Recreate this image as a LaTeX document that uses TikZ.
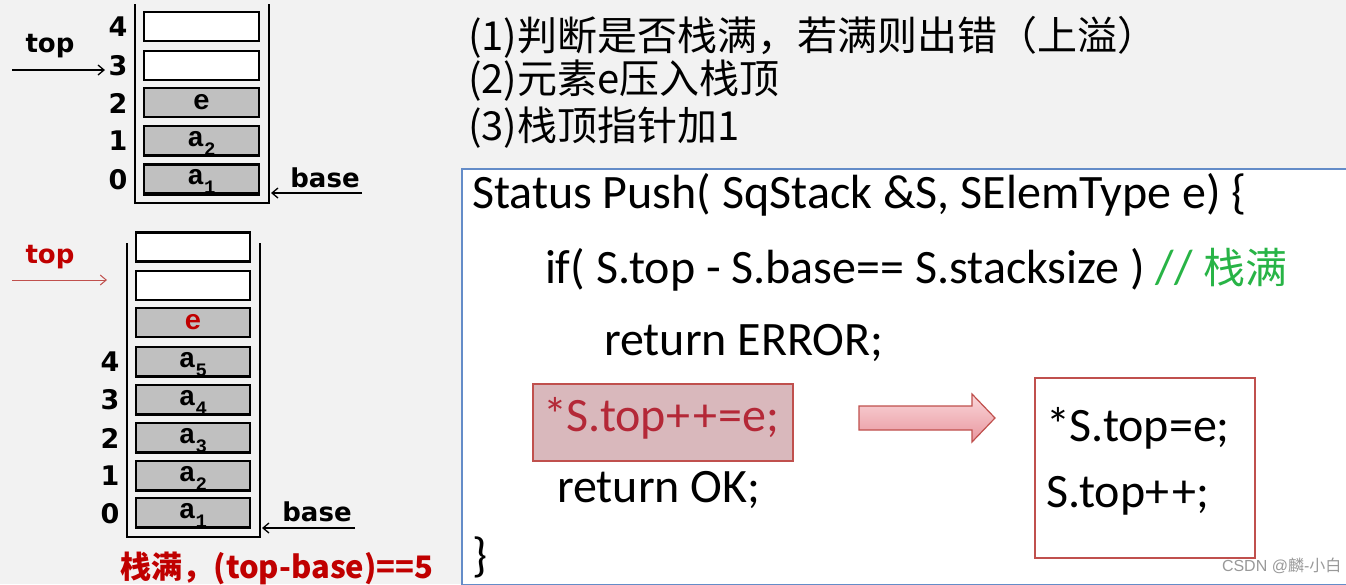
\documentclass[tikz,border=0pt]{standalone}
\usepackage{fontspec}
\setmainfont{Carlito}
\newfontfamily\cjk{Noto Sans CJK SC}
\newfontfamily\mono{Liberation Mono}
\newfontfamily\dvs{DejaVu Sans}
\newfontfamily\lsans{Liberation Sans}
\usetikzlibrary{arrows.meta}
\definecolor{bg}{RGB}{242,242,242}
\definecolor{codeborder}{RGB}{100,140,200}
\definecolor{redline}{RGB}{192,80,77}
\definecolor{redfill}{RGB}{217,184,188}
\definecolor{redtext}{RGB}{180,40,55}
\definecolor{darkred}{RGB}{192,0,0}
\definecolor{cgreen}{RGB}{40,180,70}
\definecolor{cellgray}{RGB}{192,192,192}
\definecolor{arrowtop}{RGB}{250,215,218}
\definecolor{arrowbot}{RGB}{232,150,158}
\newcommand{\elem}[1]{\raisebox{1pt}{a}\raisebox{-8pt}{\fontsize{19}{19}\selectfont #1}}
\tikzset{
  txt/.style={inner sep=0pt, outer sep=0pt},
  cell/.style={draw=black, line width=2.2pt, minimum width=115pt, minimum height=29pt, inner sep=0pt, text height=13pt, text depth=0pt, font=\mono\bfseries\fontsize{28}{28}\selectfont},
  fullcell/.style={cell, fill=cellgray},
  emptycell/.style={cell, fill=white},
  idx/.style={txt, font=\dvs\bfseries\fontsize{27}{27}\selectfont},
  ptr/.style={txt, font=\dvs\bfseries\fontsize{26}{26}\selectfont},
  wall/.style={line width=1.8pt},
  ptrarrow/.style={line width=1.3pt, -{Straight Barb[length=6pt,width=10pt]}},
  cn/.style={txt, font=\cjk\fontsize{40}{42}\selectfont},
  code/.style={txt, font=\fontsize{48}{52}\selectfont},
}
\begin{document}
\begin{tikzpicture}[x=1pt,y=-1pt]
\fill[bg] (0,0) rectangle (1346,584);
\useasboundingbox (0,0) rectangle (1346,584);

% ---------- upper stack ----------
\draw[wall] (135,4) -- (135,203) -- (269,203) -- (269,4);
\node[emptycell] (u4) at (201.5,26.5) {};
\node[emptycell] (u3) at (201.5,65.5) {};
\node[fullcell] (u2) at (201.5,102.5) {e};
\node[fullcell] (u1) at (201.5,140.5) {\elem{2}};
\node[fullcell] (u0) at (201.5,179) {\elem{1}};
\foreach \n in {u1,u0} \draw[line width=2.2pt] (\n.south west) -- (\n.south east);
\node[idx] (ui4) at (118,27) {4};
\node[idx] (ui3) at (118,66) {3};
\node[idx] (ui2) at (118,103) {2};
\node[idx] (ui1) at (118,141) {1};
\node[idx] (ui0) at (118,180) {0};
\node[ptr] (utop) at (50,46) {top};
\coordinate (utopS) at (12,70);
\coordinate (utopE) at (105,70);
\draw[ptrarrow] (utopS) -- (utopE);
\node[ptr] (ubase) at (325,178) {base};
\coordinate (ubaseS) at (362,193);
\coordinate (ubaseE) at (271,193);
\draw[ptrarrow] (ubaseS) -- (ubaseE);

% ---------- lower stack ----------
\draw[wall] (127,243) -- (127,537) -- (260,537) -- (260,243);
\node[emptycell, minimum width=114pt] (l7) at (193,247) {};
\node[emptycell, minimum width=114pt] (l6) at (193,285.5) {};
\node[fullcell, minimum width=114pt, text=darkred] (l5) at (193,322.5) {e};
\node[fullcell, minimum width=114pt] (l4) at (193,361.5) {\elem{5}};
\node[fullcell, minimum width=114pt] (l3) at (193,399.5) {\elem{4}};
\node[fullcell, minimum width=114pt] (l2) at (193,437.5) {\elem{3}};
\node[fullcell, minimum width=114pt] (l1) at (193,475.5) {\elem{2}};
\node[fullcell, minimum width=114pt] (l0) at (193,512.5) {\elem{1}};
\foreach \n in {l4,l3,l2,l1,l0} \draw[line width=2.2pt] (\n.south west) -- (\n.south east);
\node[idx] (li4) at (110,362) {4};
\node[idx] (li3) at (110,400) {3};
\node[idx] (li2) at (110,438) {2};
\node[idx] (li1) at (110,476) {1};
\node[idx] (li0) at (110,514) {0};
\node[ptr, text=darkred] (ltop) at (50,257) {top};
\coordinate (ltopS) at (12,280);
\coordinate (ltopE) at (107,280);
\draw[ptrarrow, draw=redline, line width=1pt] (ltopS) -- (ltopE);
\node[ptr] (lbase) at (317,512) {base};
\coordinate (lbaseS) at (355,528);
\coordinate (lbaseE) at (262,528);
\draw[ptrarrow] (lbaseS) -- (lbaseE);
\node[txt, text=darkred, font=\cjk\bfseries\fontsize{31}{32}\selectfont] (cap) at (277,568) {栈满，(top-base)==5};

% ---------- steps ----------
\node[cn, anchor=west] (s1) at (468,37) {(1)判断是否栈满，若满则出错（上溢）};
\node[cn, anchor=west] (s2) at (468,81) {(2)元素e压入栈顶};
\node[cn, anchor=west] (s3) at (468,128) {(3)栈顶指针加1};

% ---------- code box ----------
\node[draw=codeborder, fill=white, line width=2pt, minimum width=885pt, minimum height=416pt, anchor=north west, inner sep=0pt] (codebox) at (460.5,167.5) {};
\node[code, anchor=west] (c1) at (472,195) {Status Push( SqStack \&S, SElemType e) \{};
\node[code, anchor=west] (c2) at (545,270) {if( S.top - S.base== S.stacksize ) {\color{cgreen}// {\cjk\fontsize{42}{44}\selectfont 栈满}}};
\node[code, anchor=west] (c3) at (604,343) {return ERROR;};
\node[draw=redline, fill=redfill, line width=1.5pt, minimum width=260pt, minimum height=77pt, anchor=north west, inner sep=0pt] (rb) at (532,383) {};
\node[code, anchor=west, text=redtext] (c4) at (543,418) {*S.top+\kern3pt+\kern2pt=e;};
\node[code, anchor=west] (c5) at (557,490) {return OK;};
\node[draw=redline, fill=white, line width=2.2pt, minimum width=220pt, minimum height=180pt, anchor=north west, inner sep=0pt] (gb) at (1034,377) {};
\node[code, anchor=west] (g1) at (1046,428) {*S.top=e;};
\node[code, anchor=west] (g2) at (1046,496) {S.top+\kern3pt+;};
\node[code, anchor=west] (c6) at (472,557) {\}};
\shade[top color=arrowtop, bottom color=arrowbot, draw=redline, line width=1.2pt]
  (859,406) -- (972,406) -- (972,394) -- (995,418) -- (972,442) -- (972,430) -- (859,430) -- cycle;
\node[txt, anchor=west, text=black!40, font=\lsans\fontsize{16}{16}\selectfont] (wm) at (1222,566) {CSDN @{\cjk 麟}-{\cjk 小白}};
\end{tikzpicture}
\end{document}
